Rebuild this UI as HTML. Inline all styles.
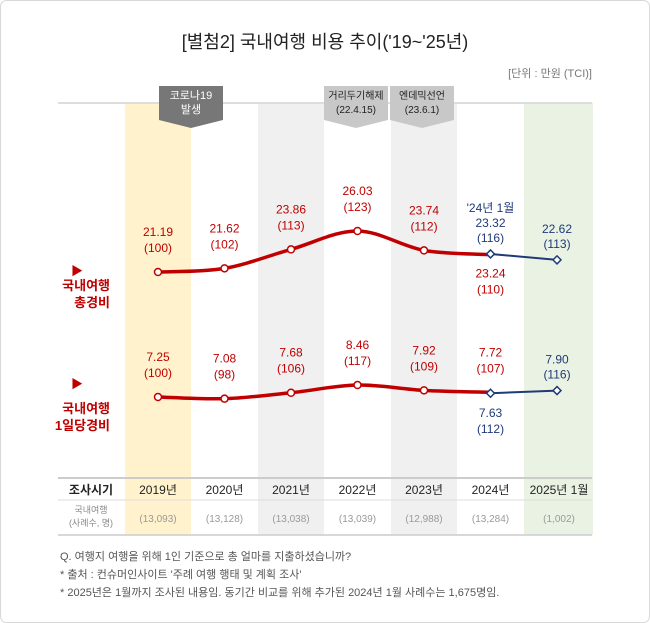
<!DOCTYPE html>
<html><head><meta charset="utf-8"><style>
body{margin:0;background:#fff;}
svg{display:block;font-family:"Liberation Sans","Noto Sans CJK KR",sans-serif;}
</style></head><body>
<svg id="c" width="650" height="623" viewBox="0 0 650 623">
<rect x="0.5" y="0.5" width="649" height="622" rx="6" fill="#fff" stroke="#d8d8d8"/>
<text x="325" y="48" text-anchor="middle" font-size="18" fill="#222">[별첨2] 국내여행 비용 추이('19~'25년)</text>
<text x="592" y="77" text-anchor="end" font-size="11" fill="#777">[단위 : 만원 (TCI)]</text>
<g id="bands"></g>
<line x1="58" y1="103" x2="592" y2="103" stroke="#ddd" stroke-width="2"/>
<g id="callouts"></g>
<g id="lines"></g>
<g id="labels"></g>
<g>
<text x="77" y="275" font-size="12" fill="#c00000" text-anchor="middle">▶</text>
<text x="110" y="290" font-size="13" font-weight="bold" fill="#c00000" text-anchor="end">국내여행</text>
<text x="110" y="307" font-size="13" font-weight="bold" fill="#c00000" text-anchor="end">총경비</text>
</g>
<g>
<text x="77" y="388" font-size="12" fill="#c00000" text-anchor="middle">▶</text>
<text x="110" y="413" font-size="13" font-weight="bold" fill="#c00000" text-anchor="end">국내여행</text>
<text x="110" y="430" font-size="13" font-weight="bold" fill="#c00000" text-anchor="end">1일당경비</text>
</g>
<line x1="58" y1="478" x2="592" y2="478" stroke="#ccc" stroke-width="2"/>
<line x1="58" y1="500" x2="592" y2="500" stroke="#ddd" stroke-width="1"/>
<line x1="58" y1="535" x2="592" y2="535" stroke="#ccc" stroke-width="1.5"/>
<text x="91" y="494" text-anchor="middle" font-size="12" font-weight="bold" fill="#222">조사시기</text>
<text x="91" y="513" text-anchor="middle" font-size="9" fill="#888">국내여행</text>
<text x="91" y="526" text-anchor="middle" font-size="9" fill="#888">(사례수, 명)</text>
<g id="table"></g>
<g font-size="11" fill="#555">
<text x="60" y="560">Q. 여행지 여행을 위해 1인 기준으로 총 얼마를 지출하셨습니까?</text>
<text x="60" y="578">* 출처 : 컨슈머인사이트 '주례 여행 행태 및 계획 조사'</text>
<text x="60" y="596">* 2025년은 1월까지 조사된 내용임. 동기간 비교를 위해 추가된 2024년 1월 사례수는 1,675명임.</text>
</g>
</svg>
<script>
const categories=["2019년","2020년","2021년","2022년","2023년","2024년","2025년 1월"];
const totalValues=[21.19,21.62,23.86,26.03,23.74,23.24];
const totalIndex=[100,102,113,123,112,110];
const totalBlue=[23.32,22.62];
const totalBlueIndex=[116,113];
const dailyValues=[7.25,7.08,7.68,8.46,7.92,7.72];
const dailyIndex=[100,98,106,117,109,107];
const dailyBlue=[7.63,7.90];
const dailyBlueIndex=[112,116];
const sampleCounts=["(13,093)","(13,128)","(13,038)","(13,039)","(12,988)","(13,284)","(1,002)"];
const NS="http://www.w3.org/2000/svg";
function el(tag,attrs,parent,txt){const e=document.createElementNS(NS,tag);for(const k in attrs)e.setAttribute(k,attrs[k]);if(txt!==undefined)e.textContent=txt;parent.appendChild(e);return e;}
const x0=158,step=66.5;
const xS=i=>x0+i*step;
const yTotal=v=>272-(v-21.19)*8.47;
const yDaily=v=>397-(v-7.25)*9.9;
const bandColors=["#fff2cc",null,"#f0f0f0",null,"#f0f0f0",null,"#eaf3e3"];
const bands=document.getElementById('bands');
bandColors.forEach((c,i)=>{if(!c)return;const w=i===6?69:66;
const r=el('rect',{x:xS(i)-33,y:103,width:w,height:432,fill:c},bands);

});
const co=document.getElementById('callouts');
function callout(cx,fill,l1,l2,s1,name){const g=el('g',{},co);


el('path',{d:`M${cx-32},86 H${cx+32} V120 L${cx},128 L${cx-32},120 Z`,fill:fill},g);
const tc=fill==='#777'?'#fff':'#222';
el('text',{x:cx,y:99,'text-anchor':'middle','font-size':s1,fill:tc},g,l1);
el('text',{x:cx,y:113,'text-anchor':'middle','font-size':s1,fill:tc},g,l2);}
callout(191,'#777','코로나19','발생',11,'callout-covid');
callout(356,'#c8c8c8','거리두기해제','(22.4.15)',10,'callout-distancing');
callout(422,'#c8c8c8','엔데믹선언','(23.6.1)',10,'callout-endemic');
function smooth(pts){let d=`M${pts[0][0]},${pts[0][1]}`;for(let i=0;i<pts.length-1;i++){const p0=pts[i-1]||pts[i],p1=pts[i],p2=pts[i+1],p3=pts[i+2]||p2;
d+=` C${p1[0]+(p2[0]-p0[0])/6},${p1[1]+(p2[1]-p0[1])/6} ${p2[0]-(p3[0]-p1[0])/6},${p2[1]-(p3[1]-p1[1])/6} ${p2[0]},${p2[1]}`;}return d;}
const lg=document.getElementById('lines');
const lab=document.getElementById('labels');
function series(vals,idx,bl,blIdx,yF,name,blueTopExtra){
const pts=vals.map((v,i)=>[xS(i),yF(v)]);
const bp=[[xS(5),yF(bl[0])],[xS(6),yF(bl[1])]];
const b=el('path',{d:`M${bp[0][0]},${bp[0][1]} L${bp[1][0]},${bp[1][1]}`,stroke:'#1f3a78','stroke-width':2,fill:'none'},lg);


const p=el('path',{d:smooth(pts),stroke:'#c00000','stroke-width':3.5,fill:'none'},lg);


pts.forEach((q,i)=>{if(i===5)return;const c=el('circle',{cx:q[0],cy:q[1],r:3.5,fill:'#fff',stroke:'#c00000','stroke-width':1.5},lg);


const t1=el('text',{x:q[0],y:q[1]-36,'text-anchor':'middle','font-size':12,fill:'#c00000'},lab,vals[i].toFixed(2));


el('text',{x:q[0],y:q[1]-20,'text-anchor':'middle','font-size':12,fill:'#c00000'},lab,'('+idx[i]+')');});
bp.forEach((q,j)=>{const d=el('path',{d:`M${q[0]},${q[1]-4} L${q[0]+4},${q[1]} L${q[0]},${q[1]+4} L${q[0]-4},${q[1]} Z`,fill:'#fff',stroke:'#1f3a78','stroke-width':1.5},lg);

});
// 2024 red label (above for daily, below for total) and blue
const r=pts[5];
if(blueTopExtra){
el('text',{x:bp[0][0],y:bp[0][1]-42,'text-anchor':'middle','font-size':12,fill:'#1f3a78'},lab,"'24년 1월");
el('text',{x:bp[0][0],y:bp[0][1]-27,'text-anchor':'middle','font-size':12,fill:'#1f3a78'},lab,bl[0].toFixed(2));
el('text',{x:bp[0][0],y:bp[0][1]-12,'text-anchor':'middle','font-size':12,fill:'#1f3a78'},lab,'('+blIdx[0]+')');
el('text',{x:r[0],y:r[1]+23,'text-anchor':'middle','font-size':12,fill:'#c00000'},lab,vals[5].toFixed(2));
el('text',{x:r[0],y:r[1]+39,'text-anchor':'middle','font-size':12,fill:'#c00000'},lab,'('+idx[5]+')');
}else{
el('text',{x:r[0],y:r[1]-36,'text-anchor':'middle','font-size':12,fill:'#c00000'},lab,vals[5].toFixed(2));
el('text',{x:r[0],y:r[1]-20,'text-anchor':'middle','font-size':12,fill:'#c00000'},lab,'('+idx[5]+')');
el('text',{x:bp[0][0],y:bp[0][1]+24,'text-anchor':'middle','font-size':12,fill:'#1f3a78'},lab,bl[0].toFixed(2));
el('text',{x:bp[0][0],y:bp[0][1]+40,'text-anchor':'middle','font-size':12,fill:'#1f3a78'},lab,'('+blIdx[0]+')');}
const q=bp[1];
el('text',{x:q[0],y:q[1]-27,'text-anchor':'middle','font-size':12,fill:'#1f3a78'},lab,bl[1].toFixed(2));
el('text',{x:q[0],y:q[1]-12,'text-anchor':'middle','font-size':12,fill:'#1f3a78'},lab,'('+blIdx[1]+')');}
series(totalValues,totalIndex,totalBlue,totalBlueIndex,yTotal,'total-cost',true);
series(dailyValues,dailyIndex,dailyBlue,dailyBlueIndex,yDaily,'daily-cost',false);
const tb=document.getElementById('table');
categories.forEach((c,i)=>{const t=el('text',{x:xS(i)+(i===6?2:0),y:494,'text-anchor':'middle','font-size':12,fill:'#222'},tb,c);


const s=el('text',{x:xS(i)+(i===6?2:0),y:522,'text-anchor':'middle','font-size':10,fill:'#999'},tb,sampleCounts[i]);

});
</script>
</body></html>
